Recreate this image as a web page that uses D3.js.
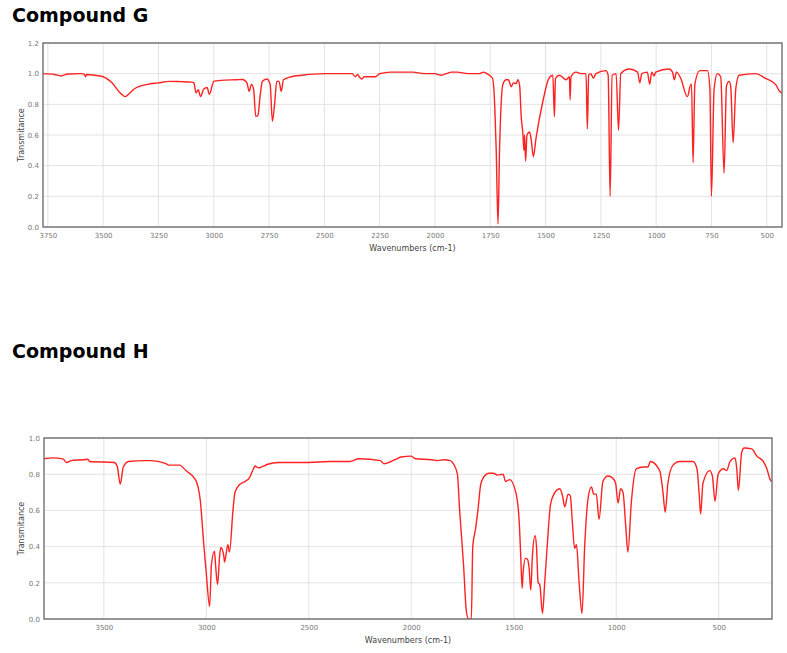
<!DOCTYPE html>
<html><head><meta charset="utf-8">
<script src="https://cdn.jsdelivr.net/npm/d3@7"></script>
<style>body{margin:0;background:#fff;font-family:"DejaVu Sans",sans-serif}</style>
</head><body><svg id="c" width="787" height="653"></svg>
<script>
const titles = ["Compound G", "Compound H"];
const gTicksX = [3750,3500,3250,3000,2750,2500,2250,2000,1750,1500,1250,1000,750,500];
const gTicksY = [0,0.2,0.4,0.6,0.8,1.0,1.2];
const hTicksX = [3500,3000,2500,2000,1500,1000,500];
const hTicksY = [0,0.2,0.4,0.6,0.8,1.0];
const gWn = [3772,3720,3690,3660,3600,3585,3580,3575,3540,3500,3460,3420,3400,3390,3360,3300,3250,3200,3150,3100,3090,3080,3070,3060,3045,3030,3020,3000,2950,2900,2870,2850,2840,2830,2820,2810,2800,2790,2780,2760,2745,2735,2725,2715,2705,2695,2685,2650,2600,2500,2400,2375,2360,2350,2340,2330,2320,2270,2250,2200,2150,2100,2050,2000,1975,1950,1925,1900,1850,1800,1780,1760,1740,1730,1723,1715,1708,1693,1678,1668,1655,1645,1633,1625,1617,1610,1602,1598,1595,1590,1584,1572,1565,1555,1543,1512,1485,1467,1460,1455,1437,1407,1392,1389,1385,1362,1340,1317,1311,1305,1295,1284,1272,1227,1217,1208,1199,1181,1170,1160,1122,1084,1074,1065,1040,1029,1020,1009,1002,941,926,918,908,889,859,843,840,833,825,803,768,757,750,738,723,708,693,682,670,663,652,640,625,550,506,460,442,431];
const gT = [1.0,0.995,0.985,0.998,1.0,0.995,0.98,0.995,0.99,0.98,0.94,0.87,0.85,0.86,0.9,0.93,0.94,0.95,0.948,0.945,0.94,0.875,0.895,0.85,0.9,0.91,0.865,0.95,0.958,0.96,0.962,0.94,0.885,0.93,0.9,0.72,0.73,0.86,0.95,0.965,0.93,0.69,0.8,0.95,0.95,0.885,0.96,0.98,0.99,1.0,1.0,1.0,0.98,0.995,0.975,0.965,0.98,0.98,1.0,1.01,1.01,1.01,1.0,1.0,0.99,1.0,1.01,1.01,1.0,1.0,1.01,0.995,0.97,0.8,0.5,0.02,0.5,0.93,0.96,0.96,0.915,0.94,0.935,0.96,0.92,0.72,0.6,0.5,0.6,0.43,0.6,0.62,0.57,0.46,0.58,0.82,0.97,0.99,0.72,0.97,0.99,0.96,0.98,0.83,0.98,1.01,1.0,1.0,0.64,0.99,1.0,0.97,1.0,1.02,0.99,0.2,0.99,1.0,0.63,1.0,1.03,1.01,0.94,1.0,1.01,0.93,1.01,0.985,1.01,1.03,1.01,0.96,1.01,0.97,0.85,0.93,0.93,0.42,0.93,1.02,1.02,0.9,0.2,0.9,1.0,0.98,0.35,0.92,0.95,0.92,0.55,0.9,0.99,1.0,0.97,0.93,0.885,0.875];
const hWn = [3792,3750,3700,3682,3660,3600,3577,3570,3450,3435,3420,3405,3380,3300,3271,3200,3182,3130,3100,3053,3030,3013,3000,2984,2975,2960,2955,2945,2935,2929,2915,2911,2895,2887,2870,2860,2840,2811,2790,2770,2763,2745,2730,2700,2650,2500,2400,2300,2255,2150,2134,2080,2050,2000,1980,1900,1870,1840,1810,1796,1775,1764,1745,1731,1720,1707,1700,1686,1675,1660,1633,1620,1600,1580,1552,1540,1520,1490,1474,1466,1459,1454,1443,1433,1425,1417,1409,1396,1389,1381,1373,1360,1349,1337,1321,1308,1292,1275,1262,1251,1235,1224,1215,1203,1194,1181,1167,1154,1137,1121,1110,1097,1084,1065,1040,1019,1003,991,979,967,954,943,926,902,869,845,834,788,772,761,748,723,691,625,606,596,588,577,544,531,518,503,477,461,445,420,412,404,388,376,339,314,282,265,249,241];
const hT = [0.885,0.89,0.885,0.865,0.875,0.88,0.883,0.87,0.865,0.845,0.745,0.84,0.87,0.875,0.875,0.86,0.85,0.85,0.82,0.77,0.66,0.42,0.25,0.07,0.3,0.375,0.3,0.19,0.35,0.395,0.35,0.315,0.41,0.37,0.6,0.7,0.74,0.76,0.78,0.83,0.845,0.835,0.84,0.855,0.865,0.865,0.87,0.87,0.885,0.875,0.858,0.88,0.895,0.9,0.885,0.88,0.875,0.88,0.875,0.86,0.8,0.6,0.3,0.04,0.0,0.0,0.4,0.5,0.6,0.75,0.8,0.805,0.805,0.795,0.8,0.76,0.77,0.7,0.55,0.35,0.17,0.26,0.335,0.33,0.28,0.16,0.35,0.46,0.4,0.2,0.19,0.03,0.2,0.4,0.63,0.68,0.71,0.72,0.68,0.62,0.69,0.68,0.55,0.39,0.41,0.2,0.03,0.4,0.67,0.73,0.69,0.69,0.55,0.76,0.79,0.78,0.75,0.64,0.72,0.7,0.52,0.37,0.65,0.83,0.84,0.84,0.87,0.82,0.7,0.59,0.75,0.85,0.87,0.87,0.83,0.7,0.58,0.75,0.82,0.79,0.65,0.8,0.83,0.82,0.87,0.89,0.83,0.71,0.92,0.945,0.94,0.9,0.87,0.83,0.77,0.76];

const svg = d3.select("#c");
function chart(cfg){
  const {title,ty,l,r,t,b,xd,yd,xt,yt,wn,tv,xlY} = cfg;
  svg.append("text").attr("x",12).attr("y",ty).attr("font-size",19).attr("font-weight","bold")
     .attr("font-family","DejaVu Sans, sans-serif").text(title);
  const x = d3.scaleLinear().domain(xd).range([l,r]);
  const y = d3.scaleLinear().domain(yd).range([b,t]);
  const g = svg.append("g");
  g.selectAll(".gx").data(xt).join("line").attr("x1",d=>x(d)).attr("x2",d=>x(d)).attr("y1",t).attr("y2",b).attr("stroke","#e3e3e3");
  g.selectAll(".gy").data(yt).join("line").attr("y1",d=>y(d)).attr("y2",d=>y(d)).attr("x1",l).attr("x2",r).attr("stroke","#e3e3e3");
  const ax = g.append("g").attr("transform",`translate(0,${b})`).call(d3.axisBottom(x).tickValues(xt).tickSize(0).tickPadding(6).tickFormat(d3.format("d")));
  const ay = g.append("g").attr("transform",`translate(${l},0)`).call(d3.axisLeft(y).tickValues(yt).tickSize(0).tickPadding(4).tickFormat(d3.format(".1f")));
  [ax,ay].forEach(a=>{a.select(".domain").remove();a.selectAll("text").attr("font-size",7).attr("fill","#777").attr("font-family","DejaVu Sans, sans-serif");});
  const data = wn.map((w,i)=>[w,tv[i]]);
  g.append("clipPath").attr("id","cp"+title.slice(-1)).append("rect").attr("x",l).attr("y",t-2).attr("width",r-l).attr("height",b-t+2);
  g.append("path").datum(data).attr("clip-path",`url(#cp${title.slice(-1)})`)
    .attr("d",d3.line().x(d=>x(d[0])).y(d=>y(d[1])).curve(d3.curveMonotoneX))
    .attr("fill","none").attr("stroke","#ff2222").attr("stroke-width",1.4);
  g.append("rect").attr("x",l).attr("y",t).attr("width",r-l).attr("height",b-t).attr("fill","none").attr("stroke","#666").attr("stroke-width",1.3);
  g.append("text").attr("x",(l+r)/2).attr("y",xlY).attr("text-anchor","middle").attr("font-size",8).attr("fill","#444").text("Wavenumbers (cm-1)");
  g.append("text").attr("transform",`translate(24,${(t+b)/2}) rotate(-90)`).attr("text-anchor","middle").attr("font-size",8).attr("fill","#444").text("Transmitance");
}
chart({title:titles[0],ty:22,l:43,r:782,t:43,b:227,xd:[3772,431],yd:[0,1.2],xt:gTicksX,yt:gTicksY,wn:gWn,tv:gT,xlY:251});
chart({title:titles[1],ty:358,l:44,r:772,t:438,b:619,xd:[3792,240],yd:[0,1.0],xt:hTicksX,yt:hTicksY,wn:hWn,tv:hT,xlY:643});
</script></body></html>
